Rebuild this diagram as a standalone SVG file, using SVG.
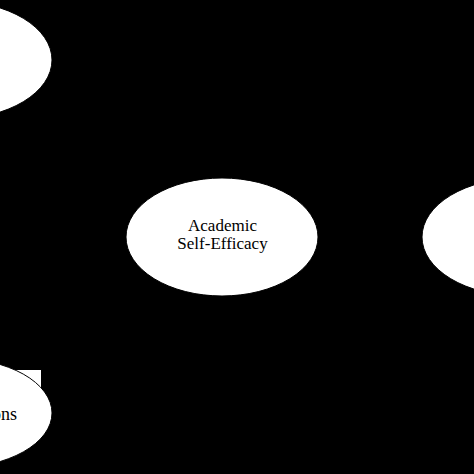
<svg xmlns="http://www.w3.org/2000/svg" width="474" height="474" viewBox="0 0 474 474">
  <style>
    .node { fill: #ffffff; stroke: #000000; stroke-width: 1; }
    .label { font-family: "Liberation Serif", "Times New Roman", serif; font-size: 17px; fill: #000000; }
  </style>
  <rect x="0" y="0" width="474" height="474" fill="#000000"/>
  <g id="connectors"></g>
  <g id="box-bottom-left">
    <rect x="0" y="370" width="41" height="60" fill="#ffffff"/>
  </g>
  <g id="node-top-left">
    <ellipse class="node" cx="-46" cy="60" rx="98" ry="59"/>
  </g>
  <g id="node-academic-self-efficacy">
    <ellipse class="node" cx="222" cy="237" rx="96" ry="59"/>
    <text class="label" x="222.5" y="231" text-anchor="middle">Academic</text>
    <text class="label" x="222.5" y="249" text-anchor="middle">Self-Efficacy</text>
  </g>
  <g id="node-right">
    <ellipse class="node" cx="520" cy="237" rx="98" ry="59"/>
  </g>
  <g id="node-bottom-left">
    <ellipse class="node" cx="-46" cy="413" rx="98" ry="55"/>
    <text class="label" x="17" y="420" text-anchor="end" style="font-size:18px">ons</text>
  </g>
</svg>
